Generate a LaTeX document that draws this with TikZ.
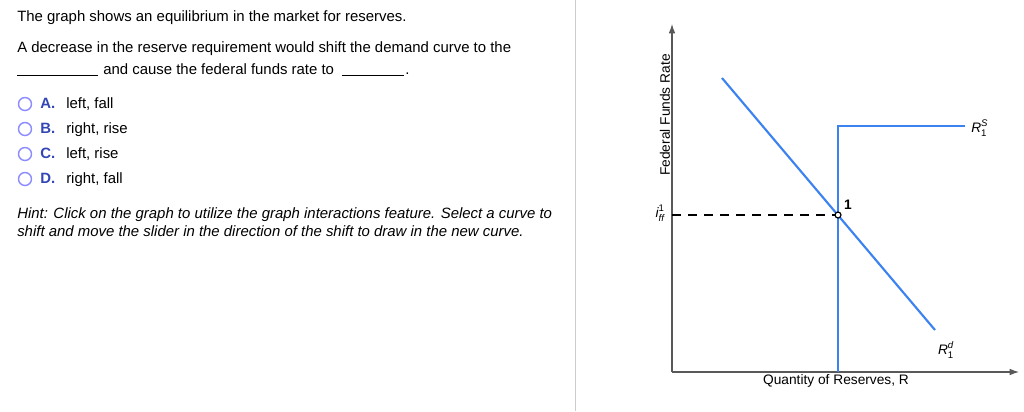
\documentclass[tikz,border=0pt]{standalone}
\usepackage{amsmath}
\usepackage{fontspec}
\setmainfont{Liberation Sans}
\usetikzlibrary{arrows.meta}
\newcommand{\ti}[1]{\text{\itshape #1}}
\begin{document}
\begin{tikzpicture}[x=0.75pt,y=-0.75pt,
  txt/.style={anchor=base west,inner sep=0,font=\fontsize{11.2}{13}\selectfont},
  opt/.style={draw=blue!45!white,line width=1.1pt},
  lett/.style={anchor=base west,inner sep=0,font=\fontsize{11.2}{13}\selectfont\bfseries,text={rgb,255:red,50;green,70;blue,180}},
  curve/.style={draw={rgb,255:red,60;green,130;blue,240},line width=1.6pt},
  lab/.style={inner sep=0,font=\fontsize{10.3}{12}\selectfont}]
\useasboundingbox (0,0) rectangle (1024,411);
\draw[gray!40] (575,0) -- (575,411);
\node[txt] (t1) at (17,21) {The graph shows an equilibrium in the market for reserves.};
\node[txt] (t2) at (17,52) {A decrease in the reserve requirement would shift the demand curve to the};
\node[txt] (t3) at (103,74) {and cause the federal funds rate to};
\draw (17,75) -- (98,75);
\draw (342,75) -- (404,75);
\node[txt] (dot) at (405,74) {.};
\foreach \y/\l/\t in {104/A/{left, fall},129/B/{right, rise},154/C/{left, rise},179/D/{right, fall}}{
  \draw[opt] (25,\y) circle (6.5);
  \node[lett] at (40,\y+4.5) {\l.};
  \node[txt] at (66,\y+4.5) {\t};
}
\node[txt,font=\fontsize{11.2}{13}\selectfont\itshape] (h1) at (17,218) {Hint: Click on the graph to utilize the graph interactions feature. Select a curve to};
\node[txt,font=\fontsize{11.2}{13}\selectfont\itshape] (h2) at (17,236) {shift and move the slider in the direction of the shift to draw in the new curve.};
% graph
\coordinate (O) at (672,372);
\coordinate (ytop) at (672,24);
\coordinate (xend) at (1019,372);
\draw[gray!70!black,line width=0.8pt,-{Latex[length=7pt,width=5pt]}] (O) -- (ytop);
\draw[gray!70!black,line width=0.8pt,-{Latex[length=7pt,width=5pt]}] (O) -- (xend);
\node[lab,rotate=90] (yl) at (665,115) {Federal Funds Rate};
\node[lab,anchor=north] (xl) at (836,374) {Quantity of Reserves, R};
\coordinate (E) at (838,215);
\draw[curve] (722,78) -- (935,330);
\draw[curve] (838,372) -- (838,126) -- (965,126);
\draw[line width=1.4pt,dash pattern=on 7pt off 5pt] (672,215) -- (E);
\draw[line width=0.9pt,fill=white] (E) circle (3);
\node[lab,font=\fontsize{10.3}{12}\selectfont\bfseries] (one) at (848,205) {1};
\node[lab,anchor=east] (iff) at (665,213) {$\ti{i}^{\text{1}}_{\ti{ff}}$};
\node[lab,anchor=west] (rs) at (971,128) {$\ti{R}^{\ti{S}}_{\text{1}}$};
\node[lab] (rd) at (946,350) {$\ti{R}^{\ti{d}}_{\text{1}}$};
\end{tikzpicture}
\end{document}
